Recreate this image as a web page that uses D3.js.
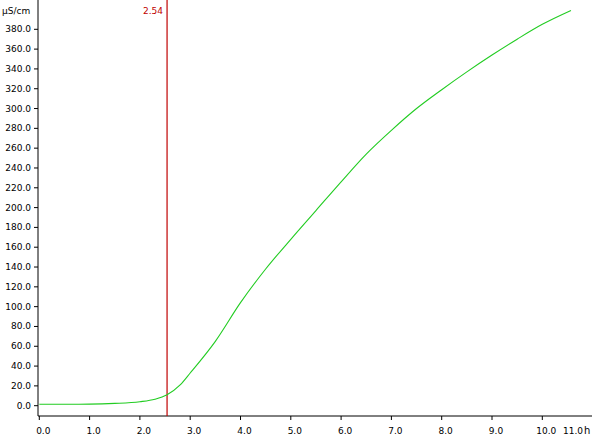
<!DOCTYPE html>
<html><head><meta charset="utf-8">
<script src="https://cdn.jsdelivr.net/npm/d3@7"></script>
<style>body{margin:0;background:#fff}svg{display:block;font-family:Verdana,"DejaVu Sans",sans-serif}</style>
</head><body><div id="chart"></div>
<script>
const hours = [0, 0.5, 1, 1.5, 2, 2.3, 2.54, 2.8, 3, 3.5, 4, 4.5, 5, 5.5, 6, 6.5, 7, 7.5, 8, 8.5, 9, 9.5, 10, 10.57];
const conductivity = [1.5, 1.5, 1.6, 2.3, 4, 6.5, 11, 21, 33, 65, 104, 138, 168, 197, 226, 254, 278, 300, 319, 337, 354, 370, 385, 399];
const xTicks = d3.range(0, 11.01, 1);
const yTicks = d3.range(0, 381, 20);
const marker = 2.54;

const width = 592, height = 439;
const svg = d3.select("#chart").append("svg").attr("width", width).attr("height", height);
const x = d3.scaleLinear().domain([0, 11]).range([39.3, 592.6]);
const y = d3.scaleLinear().domain([0, 380]).range([405.7, 29.3]);
const axisX0 = 38, axisY0 = 416;

const g = svg.append("g").attr("font-size", 9).attr("fill", "#000");
g.append("line").attr("x1", axisX0).attr("x2", axisX0).attr("y1", 0).attr("y2", axisY0).attr("stroke", "#000");
g.append("line").attr("x1", axisX0).attr("x2", width).attr("y1", axisY0).attr("y2", axisY0).attr("stroke", "#000");

yTicks.forEach(v => {
  g.append("line").attr("x1", axisX0 - 4).attr("x2", axisX0).attr("y1", y(v)).attr("y2", y(v)).attr("stroke", "#000");
  g.append("text").attr("x", axisX0 - 7).attr("y", y(v) + 3).attr("text-anchor", "end").text(v.toFixed(1));
});
g.append("text").attr("x", 2).attr("y", 14).text("µS/cm");

xTicks.forEach(v => {
  g.append("line").attr("x1", x(v)).attr("x2", x(v)).attr("y1", axisY0).attr("y2", axisY0 + 4).attr("stroke", "#000");
  // last label is squeezed in before the unit, like the reference
  const lx = v === 11 ? 573 : x(v) + 4;
  g.append("text").attr("x", lx).attr("y", axisY0 + 18).attr("text-anchor", "middle").text(v.toFixed(1));
});
g.append("text").attr("x", 584).attr("y", 434).attr("font-size", 10).text("h");

svg.append("line").attr("x1", x(marker)).attr("x2", x(marker)).attr("y1", 0).attr("y2", axisY0)
  .attr("stroke", "#c00000").attr("stroke-width", 1.2);
svg.append("text").attr("x", x(marker) - 4).attr("y", 14).attr("text-anchor", "end")
  .attr("font-size", 9).attr("fill", "#c00000").text(marker.toFixed(2));

const data = hours.map((h, i) => [h, conductivity[i]]);
svg.append("path").datum(data).attr("fill", "none").attr("stroke", "#22cc22").attr("stroke-width", 1.1)
  .attr("d", d3.line().x(d => x(d[0])).y(d => y(d[1])).curve(d3.curveMonotoneX));
</script></body></html>
